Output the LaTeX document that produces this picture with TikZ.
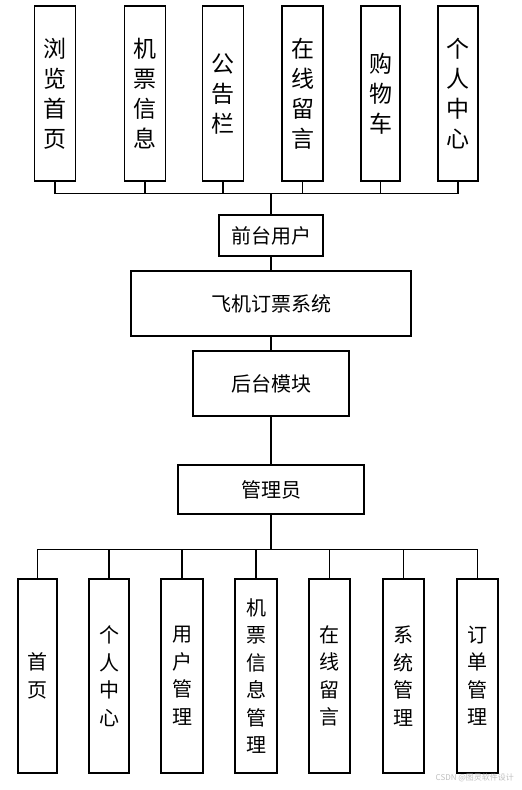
\documentclass[tikz,border=0pt]{standalone}
\usepackage{fontspec}
\newfontfamily\cjk{Noto Sans CJK SC}
\begin{document}
\begin{tikzpicture}[x=1pt, y=-1pt, line width=1.4pt,
    topbox/.style={draw, inner sep=0, minimum width=41pt, minimum height=175pt, align=center,
        font=\cjk\fontsize{23}{30}\selectfont},
    midbox/.style={draw, inner sep=0, align=center, font=\cjk\fontsize{20}{22}\selectfont},
    botbox/.style={draw, inner sep=0, minimum width=40pt, minimum height=194pt, align=center,
        font=\cjk\fontsize{20}{27.5}\selectfont}]
\useasboundingbox (0, 0) rectangle (522, 790);
% front end pages
\node[topbox] (top-home) at (55, 93.5) {浏\\览\\首\\页};
\node[topbox] (top-ticket) at (145, 93.5) {机\\票\\信\\息};
\node[topbox] (top-notice) at (223, 93.5) {公\\告\\栏};
\node[topbox] (top-message) at (302.5, 93.5) {在\\线\\留\\言};
\node[topbox, minimum width=39pt] (top-cart) at (380.5, 93.5) {购\\物\\车};
\node[topbox, minimum width=40pt] (top-center) at (458, 93.5) {个\\人\\中\\心};
% main column
\node[midbox, minimum width=104pt, minimum height=41pt] (front) at (271, 235.5) {前台用户};
\node[midbox, minimum width=280pt, minimum height=65pt] (system) at (271, 303.5) {飞机订票系统};
\node[midbox, minimum width=156pt, minimum height=65pt] (back) at (271, 383.5) {后台模块};
\node[midbox, minimum width=186pt, minimum height=49pt] (admin) at (271, 489.5) {管理员};
% back end pages
\node[botbox, minimum width=39pt] (bot-home) at (37.5, 676) {首\\页};
\node[botbox] (bot-center) at (109, 676) {个\\人\\中\\心};
\node[botbox, minimum width=42pt] (bot-user) at (182, 676) {用\\户\\管\\理};
\node[botbox, minimum width=42pt] (bot-ticket) at (256, 676) {机\\票\\信\\息\\管\\理};
\node[botbox, minimum width=41pt] (bot-message) at (329.5, 676) {在\\线\\留\\言};
\node[botbox, minimum width=41pt] (bot-system) at (403.5, 676) {系\\统\\管\\理};
\node[botbox, minimum width=41pt] (bot-order) at (477.5, 676) {订\\单\\管\\理};
% connectors
\foreach \n in {home, ticket, notice, message, cart, center} {
    \draw (top-\n.south) -- ++(0, 12) -| (front.north);
}
\draw (front) -- (system);
\draw (system) -- (back);
\draw (back) -- (admin);
\foreach \n in {home, center, user, ticket, message, system, order} {
    \draw (admin.south) -- ++(0, 35) -| (bot-\n.north);
}
\node[text=black!25, font=\cjk\fontsize{8}{9}\selectfont, anchor=east] (mark) at (518, 778) {CSDN @图灵软件设计};
\end{tikzpicture}
\end{document}
